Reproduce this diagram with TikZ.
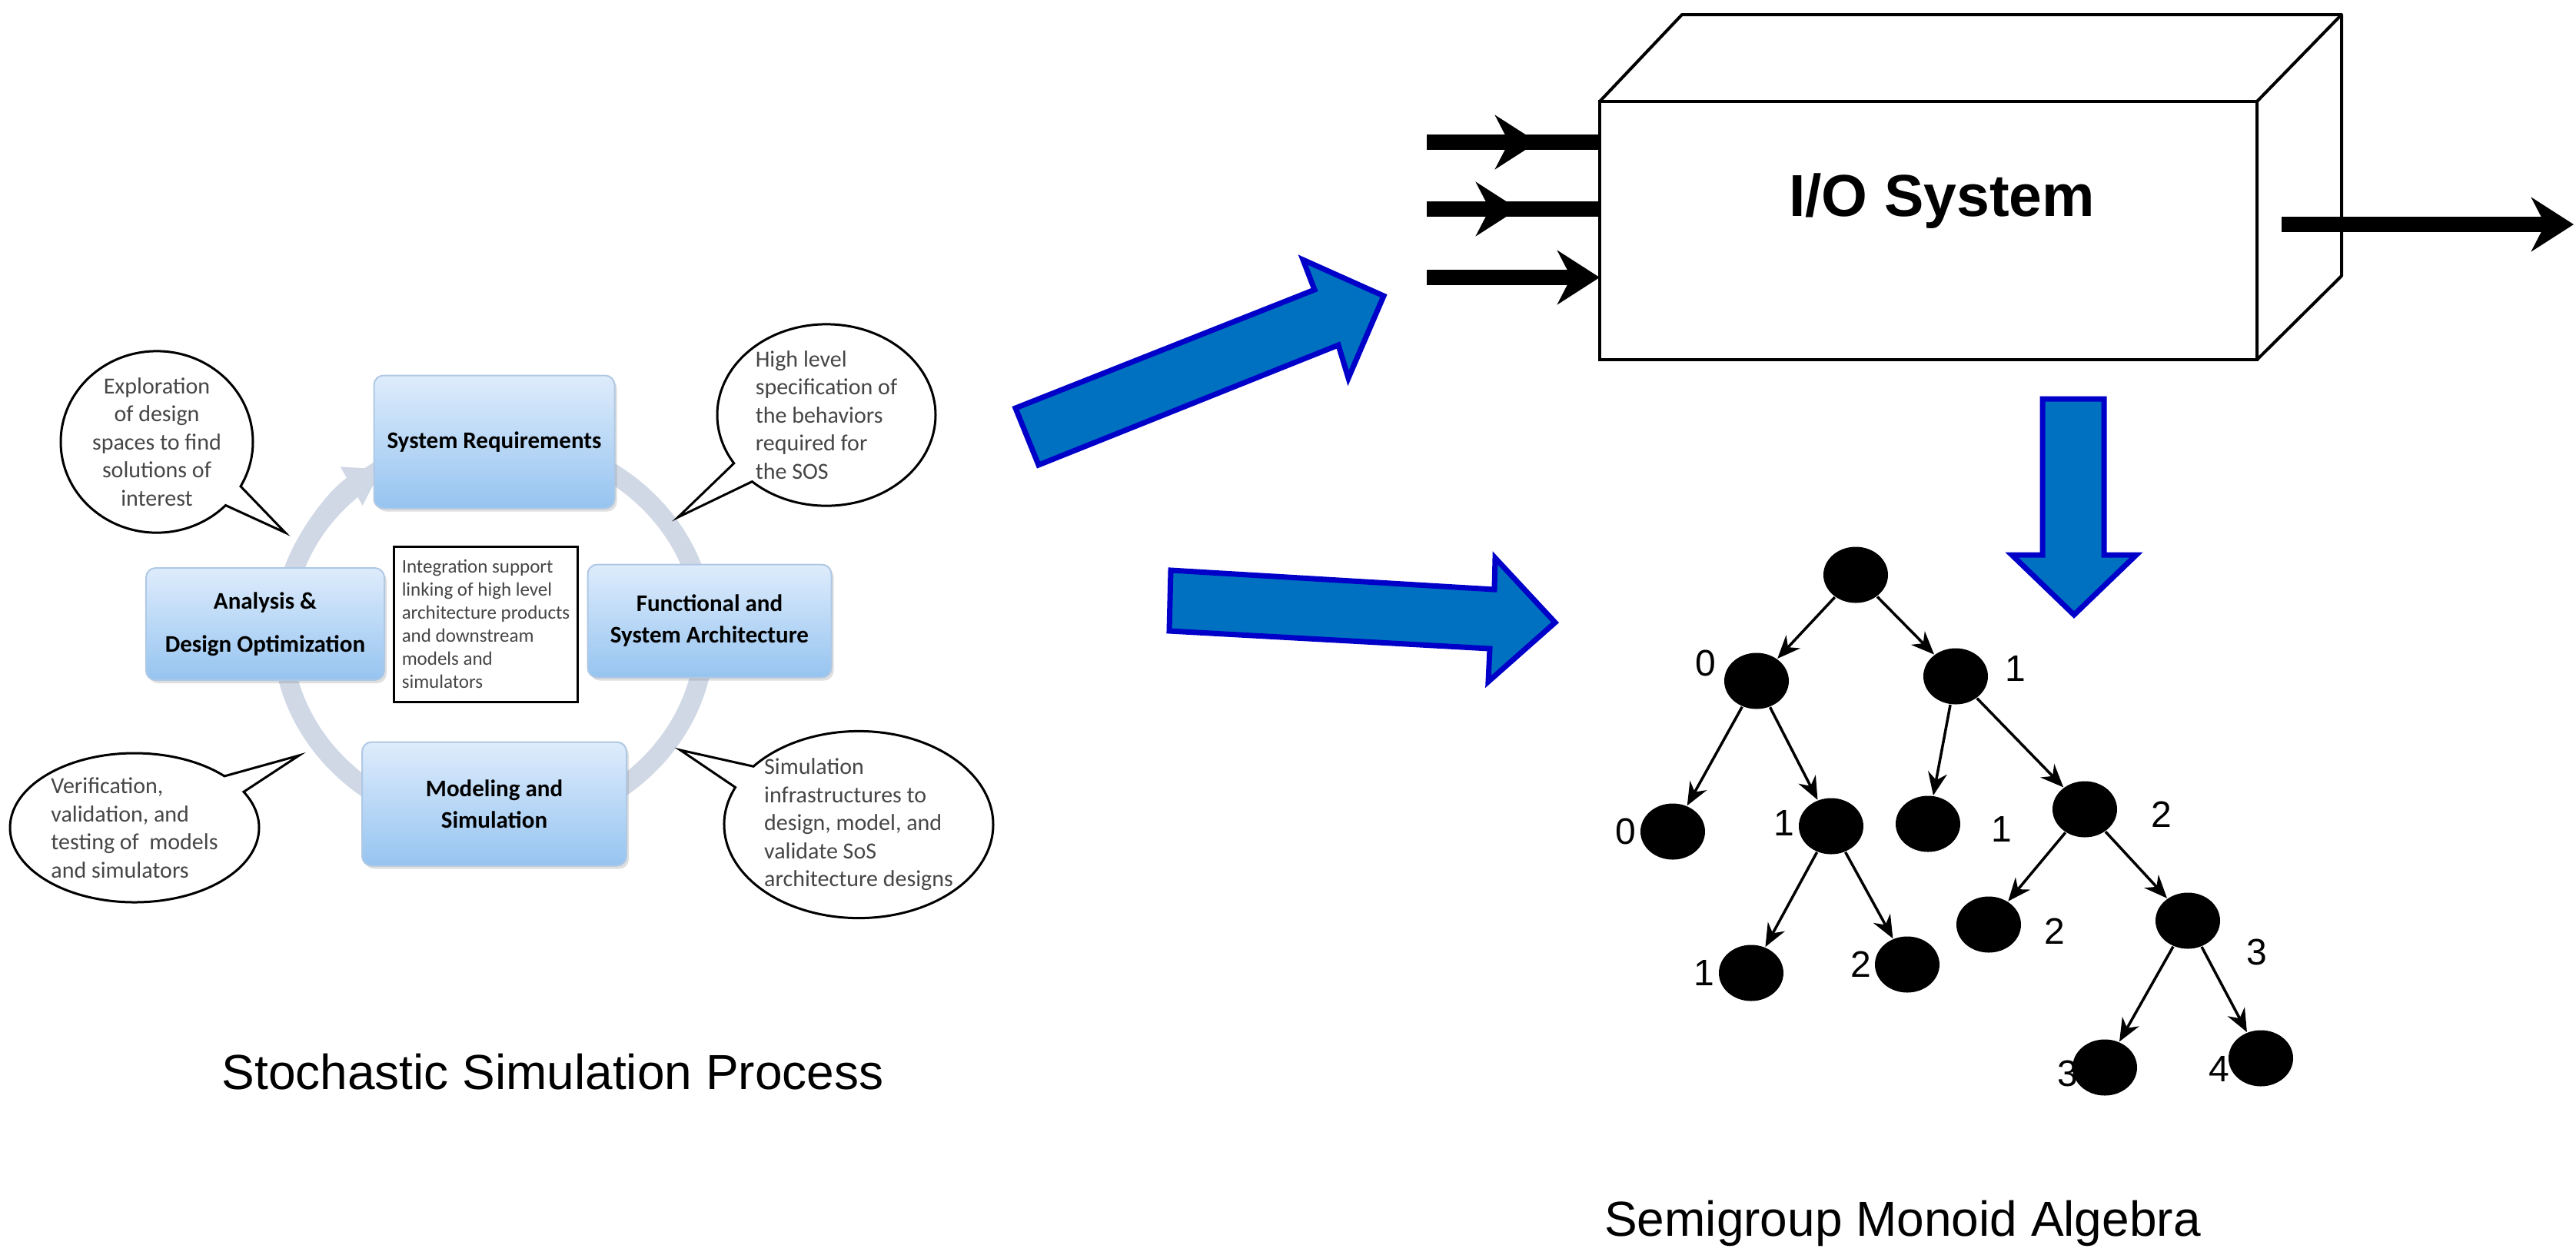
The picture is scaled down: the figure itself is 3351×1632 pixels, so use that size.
\documentclass[tikz,border=0pt]{standalone}
\usepackage{fontspec}
\setmainfont{Liberation Sans}
\newfontfamily\carl{Carlito}
\usetikzlibrary{shapes.geometric,shapes.callouts,arrows.meta,shadows}
\definecolor{ablue}{RGB}{0,112,192}
\definecolor{aedge}{RGB}{0,0,200}
\definecolor{ring}{RGB}{208,216,230}
\definecolor{btop}{RGB}{222,236,252}
\definecolor{bbot}{RGB}{150,196,240}
\definecolor{bedge}{RGB}{175,200,228}
\definecolor{ctext}{RGB}{70,70,70}
\begin{document}
\begin{tikzpicture}[x=0.2pt,y=-0.2pt,
  stage/.style={draw=bedge,line width=0.4pt,rounded corners=2.5pt,top color=btop,bottom color=bbot,
     drop shadow={shadow xshift=0.6pt,shadow yshift=-0.8pt,opacity=0.25},
     font=\carl\bfseries\fontsize{6.2pt}{8.2pt}\selectfont,align=center,inner sep=0pt},
  bubble/.style={ellipse callout,draw,line width=0.6pt,fill=white,inner sep=0pt,
     font=\carl\fontsize{6pt}{7.3pt}\selectfont,text=ctext},
  big/.style={draw=aedge,line width=1.4pt,fill=ablue,line join=miter},
  tn/.style={ellipse,fill=black,minimum width=16.8pt,minimum height=14.6pt,inner sep=0pt},
  te/.style={-{Stealth[length=6pt,width=5pt]},line width=0.7pt},
  lab/.style={font=\fontsize{9.6pt}{10pt}\selectfont},
  inarr/.style={line width=4pt},
  captext/.style={font=\fontsize{12.8pt}{14pt}\selectfont}]
\useasboundingbox (0,0) rectangle (3351,1632);
% ---------- left cycle ----------
\draw[ring,line width=5pt] (642,824) ellipse [x radius=275,y radius=252];
\draw[ring,line width=5pt,-{Triangle[length=9pt,width=11pt]}] (642,824) ++(200:275 and 252) arc[start angle=200,end angle=238,x radius=275,y radius=252];
\node[stage,minimum width=62.6pt,minimum height=34.6pt] (sr) at (643,575) {System Requirements};
\node[stage,minimum width=62pt,minimum height=29.2pt] (ad) at (345,812) {Analysis \&\\[3pt] Design Optimization};
\node[stage,minimum width=63.4pt,minimum height=29.4pt] (fs) at (923,808) {Functional and\\ System Architecture};
\node[stage,minimum width=68.8pt,minimum height=32.2pt] (ms) at (643,1046) {Modeling and\\ Simulation};
\node[draw,line width=0.6pt,fill=white,minimum width=47.2pt,minimum height=40.4pt,inner sep=2pt,
   font=\carl\fontsize{5pt}{6pt}\selectfont,text=ctext,align=left] (ci) at (632,812)
   {Integration support\\ linking of high level\\ architecture products\\ and downstream\\ models and\\ simulators};
\node[bubble,minimum width=50pt,minimum height=45.2pt,align=center,callout absolute pointer={(371,693)}] (b1) at (204,575)
   {Exploration\\ of design\\ spaces to find\\ solutions of\\ interest};
\node[bubble,minimum width=56.8pt,minimum height=43.6pt,align=left,callout absolute pointer={(882,673)}] (b2) at (1075,540)
   {High level\\ specification of\\ the behaviors\\ required for\\ the SOS};
\node[bubble,minimum width=64.8pt,minimum height=38.8pt,align=left,callout absolute pointer={(389,983)}] (b3) at (175,1077)
   {Verification,\\ validation, and\\ testing of \ models\\ and simulators};
\node[bubble,minimum width=70pt,minimum height=42pt,align=left,callout absolute pointer={(885,976)}] (b4) at (1117,1073)
   {Simulation\\ infrastructures to\\ design, model, and\\ validate SoS\\ architecture designs};
\node[captext] (c1) at (719,1395) {Stochastic Simulation Process};
% ---------- blue arrows ----------
\draw[big] (1321,531) -- (1710,377) -- (1695,338) -- (1800,385) -- (1754,492) -- (1741,449) -- (1351,605) -- cycle;
\draw[big] (1523,742) -- (1944,767) -- (1945,726) -- (2023,810) -- (1936,887) -- (1938,844) -- (1521,821) -- cycle;
\draw[big] (2657,519) -- (2737,519) -- (2737,722) -- (2779,722) -- (2698,800) -- (2617,722) -- (2657,722) -- cycle;
% ---------- I/O box ----------
\draw[line width=0.8pt,fill=white,line join=round] (2081,132) -- (2188,19) -- (3046,19) -- (3046,359) -- (2936,468) -- (2936,132) -- cycle;
\draw[line width=0.8pt] (2936,132) -- (3046,19);
\node[draw,line width=0.8pt,fill=white,minimum width=171pt,minimum height=67.2pt,inner sep=0pt] (io) at (2508.5,300) {};
\node[font=\bfseries\fontsize{15.4pt}{16pt}\selectfont] (iot) at (2526,262) {I/O System};
\coordinate (i1a) at (1856,185); \coordinate (i1b) at (2000,185); \coordinate (i1c) at (2083,185);
\coordinate (i2a) at (1856,272); \coordinate (i2b) at (1975,272); \coordinate (i2c) at (2083,272);
\coordinate (i3a) at (1856,361); \coordinate (i3b) at (2081,361);
\draw[inarr] (i1a) -- (i1c); \draw[inarr,-{Stealth[length=11pt,width=14pt]}] (i1a) -- (i1b);
\draw[inarr] (i2a) -- (i2c); \draw[inarr,-{Stealth[length=11pt,width=14pt]}] (i2a) -- (i2b);
\draw[inarr,-{Stealth[length=11pt,width=14pt]}] (i3a) -- (i3b);
\coordinate (o1) at (2968,292); \coordinate (o2) at (3348,292);
\draw[inarr,-{Stealth[length=11pt,width=14pt]}] (o1) -- (o2);
% ---------- tree ----------
\node[tn] (r) at (2414,748) {};
\node[tn] (a) at (2285,886) {};
\node[tn] (b) at (2544,880) {};
\node[tn] (aa) at (2176,1082) {};
\node[tn] (ab) at (2382,1075) {};
\node[tn] (ba) at (2508,1072) {};
\node[tn] (bb) at (2712,1053) {};
\node[tn] (aba) at (2278,1266) {};
\node[tn] (abb) at (2481,1255) {};
\node[tn] (bba) at (2587,1203) {};
\node[tn] (bbb) at (2846,1198) {};
\node[tn] (bbba) at (2738,1389) {};
\node[tn] (bbbb) at (2941,1377) {};
\foreach \p/\c in {r/a,r/b,a/aa,a/ab,b/ba,b/bb,ab/aba,ab/abb,bb/bba,bb/bbb,bbb/bbba,bbb/bbbb}
  \draw[te] (\p) -- (\c);
\node[lab] (l1) at (2219,863) {0};
\node[lab] (l2) at (2622,870) {1};
\node[lab] (l3) at (2115,1082) {0};
\node[lab] (l4) at (2321,1071) {1};
\node[lab] (l5) at (2604,1079) {1};
\node[lab] (l6) at (2812,1060) {2};
\node[lab] (l7) at (2217,1266) {1};
\node[lab] (l8) at (2421,1255) {2};
\node[lab] (l9) at (2673,1212) {2};
\node[lab] (l10) at (2936,1239) {3};
\node[lab] (l11) at (2690,1397) {3};
\node[lab] (l12) at (2887,1391) {4};
\node[captext] (c2) at (2475,1592) {Semigroup Monoid Algebra};
\end{tikzpicture}
\end{document}
